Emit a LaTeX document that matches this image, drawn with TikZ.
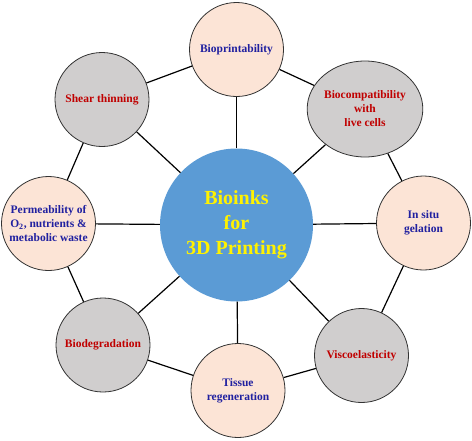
\documentclass[tikz,border=0pt]{standalone}
\usepackage{fontspec}
\setmainfont{Liberation Serif}
\usepackage{xcolor}
\usetikzlibrary{shapes.geometric}

\definecolor{peach}{RGB}{252,228,214}
\definecolor{greyfill}{RGB}{208,206,206}
\definecolor{hubblue}{RGB}{91,155,213}
\definecolor{navytext}{RGB}{32,32,160}
\definecolor{redtext}{RGB}{192,0,0}

\begin{document}
\begin{tikzpicture}[x=1pt, y=-1pt,
    prop/.style={circle, draw=black!80, line width=0.8pt, minimum size=94pt, inner sep=0pt,
        align=center, font=\bfseries\fontsize{11.5}{14}\selectfont},
    peachprop/.style={prop, fill=peach, text=navytext},
    greyprop/.style={prop, fill=greyfill, text=redtext},
    link/.style={line width=1.2pt, black}]

        \useasboundingbox (0,0) rectangle (472,440);

        % hub
        \node[circle, fill=hubblue, minimum size=153pt, inner sep=0pt, align=center, text=yellow,
            font=\bfseries\fontsize{20}{25}\selectfont] (hub) at (236.5,225) {Bioinks\\for\\3D Printing};

        % properties round the hub
        \node[peachprop] (print) at (236.5,49.5) {Bioprintability};
        \node[greyprop, ellipse, minimum width=104pt, minimum height=96pt] (compat) at (365,109) {Biocompatibility\\with\\live cells};
        \node[peachprop] (gel) at (423.5,223) {In situ\\gelation};
        \node[greyprop] (visco) at (361.5,355.5) {Viscoelasticity};
        \node[peachprop] (tissue) at (238,390.5) {Tissue\\regeneration};
        \node[greyprop] (degrade) at (103,345) {Biodegradation};
        \node[peachprop] (perm) at (48.5,223.5) {Permeability of\\O\textsubscript{2}, nutrients \&\\metabolic waste};
        \node[greyprop] (shear) at (102,99.5) {Shear thinning};

        \foreach \p in {print, compat, gel, visco, tissue, degrade, perm, shear}
            \draw[link] (hub) -- (\p);

        \draw[link] (print) -- (compat);
        \draw[link] (compat) -- (gel);
        \draw[link] (gel) -- (visco);
        \draw[link] (visco) -- (tissue);
        \draw[link] (tissue) -- (degrade);
        \draw[link] (degrade) -- (perm);
        \draw[link] (perm) -- (shear);
        \draw[link] (shear) -- (print);
    \end{tikzpicture}
\end{document}
